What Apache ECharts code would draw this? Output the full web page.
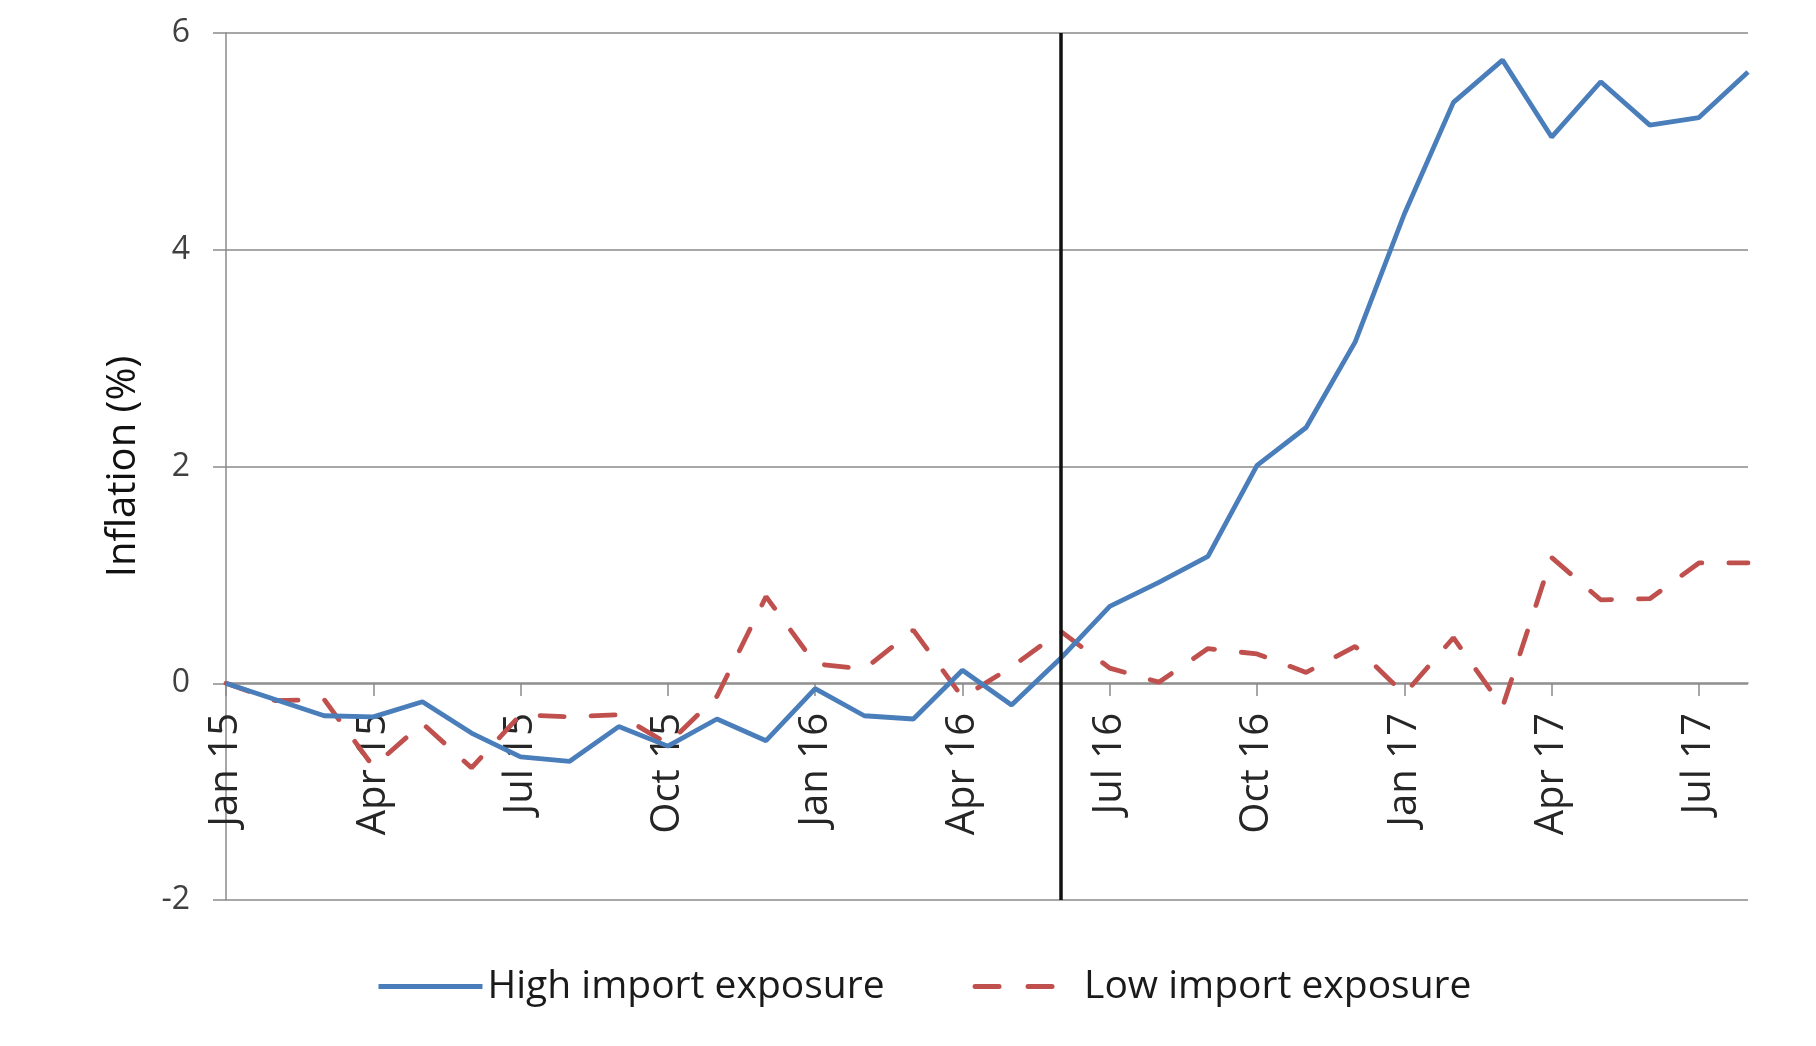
<!DOCTYPE html>
<html lang="en">
<head>
    <meta charset="UTF-8">
    <title>Inflation by import exposure</title>
    <script src="https://cdn.jsdelivr.net/npm/echarts@6/dist/echarts.min.js"></script>
    <style>
        html, body { margin: 0; padding: 0; background: #fff; }
    </style>
</head>
<body>
<div id="main" style="width: 1816px;height: 1046px"></div>
<script>
    // monthly categories, Jan 15 .. Aug 17
    let months = ['Jan 15', 'Feb 15', 'Mar 15', 'Apr 15', 'May 15', 'Jun 15', 'Jul 15', 'Aug 15',
        'Sep 15', 'Oct 15', 'Nov 15', 'Dec 15', 'Jan 16', 'Feb 16', 'Mar 16', 'Apr 16',
        'May 16', 'Jun 16', 'Jul 16', 'Aug 16', 'Sep 16', 'Oct 16', 'Nov 16', 'Dec 16',
        'Jan 17', 'Feb 17', 'Mar 17', 'Apr 17', 'May 17', 'Jun 17', 'Jul 17', 'Aug 17']
    let highImport = [0, -0.15, -0.3, -0.31, -0.17, -0.46, -0.68, -0.72, -0.4, -0.58, -0.33, -0.53,
        -0.05, -0.3, -0.33, 0.12, -0.2, 0.23, 0.71, 0.93, 1.17, 2.01, 2.36, 3.15,
        4.33, 5.36, 5.75, 5.04, 5.55, 5.15, 5.22, 5.64]
    let lowImport = [0, -0.16, -0.15, -0.77, -0.37, -0.78, -0.29, -0.31, -0.29, -0.56, -0.12, 0.8,
        0.18, 0.13, 0.49, -0.13, 0.15, 0.48, 0.14, 0.01, 0.32, 0.27, 0.1, 0.34,
        -0.1, 0.42, -0.22, 1.16, 0.77, 0.78, 1.11, 1.11]
    let referendum = 'Jun 16'

    let font = 'Open Sans'
    let gridColor = '#8a8a8a'
    let blue = '#4a7ebb'
    let red = '#c0504d'

    let mycharts = echarts.init(document.getElementById('main'))
    mycharts.setOption({
        animation: false,
        textStyle: { fontFamily: font },
        grid: { left: 226, right: 68, top: 33, bottom: 146 },
        legend: {
            left: 371,
            top: 962,
            itemWidth: 104,
            itemHeight: 20,
            itemGap: 88,
            itemStyle: { opacity: 0 },
            textStyle: { fontSize: 39, color: '#1a1a1a', fontFamily: font },
            data: [
                { name: 'High import exposure', lineStyle: { color: blue, width: 5 } },
                // two dashes only, like the original key
                { name: 'Low import exposure', lineStyle: { color: red, width: 5, type: [24, 29], cap: 'round' } }
            ]
        },
        xAxis: {
            type: 'category',
            data: months,
            boundaryGap: false,
            // axis drawn at the zero line (217px above the bottom of the grid)
            offset: -217,
            axisLine: { onZero: false, lineStyle: { color: gridColor, width: 1.5 } },
            axisTick: { interval: 2, length: 13, lineStyle: { color: gridColor, width: 1.5 } },
            axisLabel: { interval: 2, rotate: 90, margin: 30, fontSize: 40, color: '#262626' },
            splitLine: { show: false }
        },
        yAxis: {
            type: 'value',
            min: -2,
            max: 6,
            interval: 2,
            name: 'Inflation (%)',
            nameLocation: 'middle',
            nameRotate: 90,
            nameGap: 82,
            nameTextStyle: { fontSize: 40, color: '#111', fontFamily: font },
            axisLine: { show: true, lineStyle: { color: gridColor, width: 1.5 } },
            axisTick: { show: true, length: 13, lineStyle: { color: gridColor, width: 1.5 } },
            axisLabel: { margin: 36, fontSize: 32, color: '#404040' },
            splitLine: { lineStyle: { color: gridColor, width: 1.5 } }
        },
        series: [{
            name: 'High import exposure',
            type: 'line',
            data: highImport,
            showSymbol: false,
            symbol: 'none',
            z: 3,
            lineStyle: { color: blue, width: 4.8 },
            itemStyle: { color: blue },
            markLine: {
                silent: true,
                symbol: ['none', 'none'],
                label: { show: false },
                lineStyle: { color: '#111', width: 3.5, type: 'solid' },
                data: [{ xAxis: referendum }]
            }
        }, {
            name: 'Low import exposure',
            type: 'line',
            data: lowImport,
            showSymbol: false,
            symbol: 'none',
            z: 2,
            lineStyle: { color: red, width: 4.8, type: [24, 27], cap: 'round' },
            itemStyle: { color: red }
        }]
    })
</script>
</body>
</html>
